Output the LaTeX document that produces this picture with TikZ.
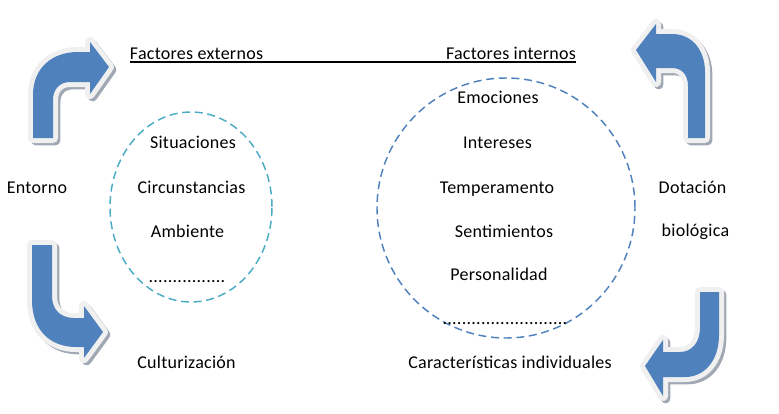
\documentclass[tikz,border=0pt]{standalone}
\usepackage{fontspec}
\setmainfont{Carlito}[LetterSpace=1.5]
\usepackage{tikz}
\usetikzlibrary{positioning, shapes.geometric, calc}
\definecolor{arrowBlue}{RGB}{79,129,189}
\definecolor{glowGray}{RGB}{240,240,240}
\definecolor{shadeGray}{RGB}{160,168,180}
\definecolor{ovalTeal}{RGB}{75,172,198}
\definecolor{ovalBlue}{RGB}{79,129,189}

\begin{document}
\begin{tikzpicture}[x=0.75pt, y=-0.75pt, font=\fontsize{13.5pt}{16pt}\selectfont,
	lbl/.style={anchor=base, inner sep=0pt},
	bentarrow/.style={fill=arrowBlue, line join=round,
		preaction={transform canvas={shift={(2pt,-2pt)}}, draw=shadeGray, fill=shadeGray, line width=7pt, line join=round},
		preaction={draw=glowGray, line width=7.5pt, line join=round}},
	oval/.style={ellipse, draw, line width=1.1pt, dash pattern=on 6pt off 3.5pt, inner sep=0pt}]
	\useasboundingbox (0,0) rectangle (779,414);
	
	% Bent arrows
	\path[bentarrow] (33,138) -- (33,95) .. controls (33,68) and (52,52) .. (78,52) -- (90,52) -- (90,42) -- (109,67) -- (90,94) -- (90,82) -- (70,82) .. controls (60,82) and (53,89) .. (53,100) -- (53,138) -- cycle;
	\path[bentarrow] (32,245) -- (52,245) -- (52,296) .. controls (52,310) and (61,318) .. (74,318) -- (84,318) -- (84,306) -- (103,332) -- (84,358) -- (84,347) -- (76,347) .. controls (50,347) and (32,330) .. (32,300) -- cycle;
	\path[bentarrow] (688,138) -- (688,86) .. controls (688,75) and (682,68) .. (672,68) -- (656,68) -- (656,82) -- (636,50) -- (656,24) -- (656,34) -- (672,34) .. controls (692,34) and (705,50) .. (705,72) -- (705,138) -- cycle;
	\path[bentarrow] (700,292) -- (719,292) -- (719,335) .. controls (719,360) and (705,377) .. (685,377) -- (663,377) -- (663,396) -- (645,366) -- (663,340) -- (663,352) -- (680,352) .. controls (692,352) and (700,342) .. (700,328) -- cycle;
	
	% Headings
	\node[lbl] (fext) at (196.5,59) {Factores externos};
	\node[lbl] (fint) at (511,59) {Factores internos};
	\draw[line width=0.8pt] ($(fext.base west)+(0,3)$) -- ($(fint.base east)+(0,3)$);
	
	% Groups
	\node[oval, draw=ovalTeal, minimum width=121.5pt, minimum height=142.5pt] (extgroup) at (191,207) {};
	\node[oval, draw=ovalBlue, minimum width=193.5pt, minimum height=195pt] (intgroup) at (506,208) {};
	
	% External factors
	\node[lbl] (situ) at (193,148) {Situaciones};
	\node[lbl] (circ) at (191.5,193) {Circunstancias};
	\node[lbl] (amb) at (187.5,237) {Ambiente};
	\node[lbl] (extdots) at (187,282) {................};
	
	% Internal factors
	\node[lbl] (emo) at (498,103) {Emociones};
	\node[lbl] (inte) at (497.5,148) {Intereses};
	\node[lbl] (temp) at (497,193) {Temperamento};
	\node[lbl] (sent) at (504,237) {Sentimientos};
	\node[lbl] (pers) at (499,280) {Personalidad};
	\node[lbl] (intdots) at (505,324) {..........................};
	
	% Side and bottom labels
	\node[lbl] (ent) at (37,193) {Entorno};
	\node[lbl] (dot) at (692.5,193) {Dotación};
	\node[lbl] (bio) at (695.5,236) {biológica};
	\node[lbl] (cult) at (186.5,368) {Culturización};
	\node[lbl] (carac) at (510,368) {Características individuales};
\end{tikzpicture}
\end{document}
